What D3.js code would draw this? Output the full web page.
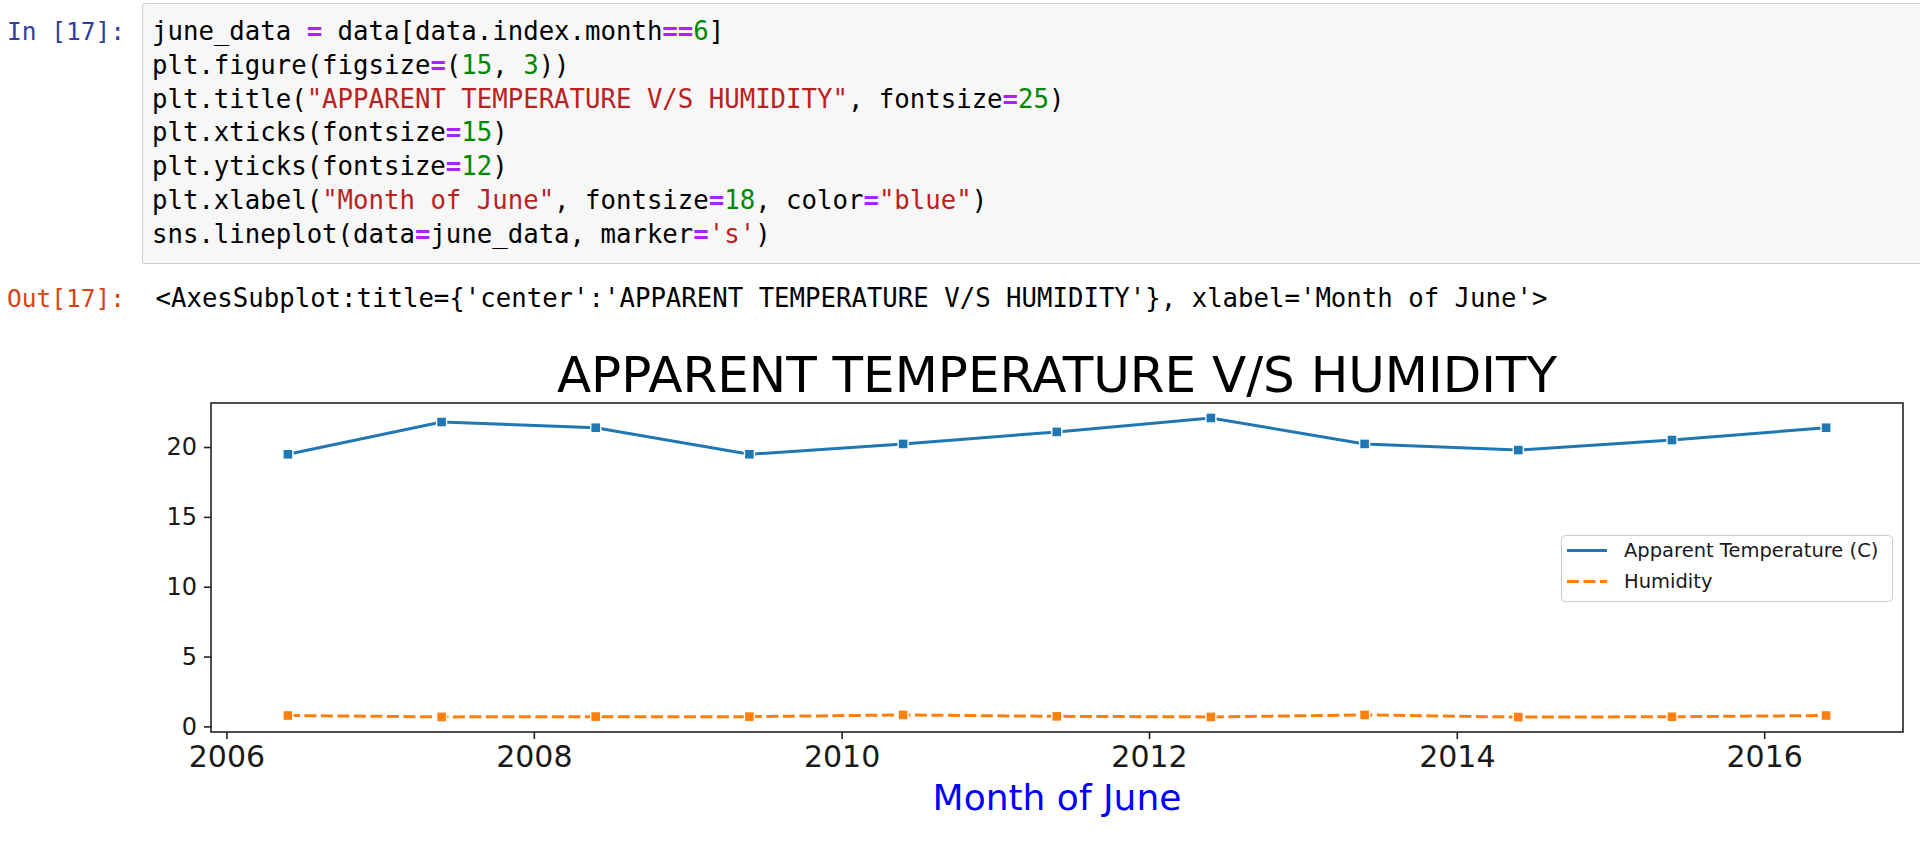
<!DOCTYPE html>
<html>
<head>
<meta charset="utf-8">
<script src="https://cdn.jsdelivr.net/npm/d3@7"></script>
<style>
  body { margin: 0; background: #fff; overflow: hidden; }
  svg { display: block; }
</style>
</head>
<body>
<div id="page"></div>
<script>
// values
var juneDates = ['2006-05-27', '2007-05-27', '2008-05-27', '2009-05-27', '2010-05-27', '2011-05-27',
  '2012-05-27', '2013-05-27', '2014-05-27', '2015-05-27', '2016-05-27']
var tempValues = [19.48, 21.79, 21.38, 19.48, 20.22, 21.08, 22.08, 20.22, 19.78, 20.50, 21.38]
var humidityValues = [0.78, 0.68, 0.70, 0.70, 0.82, 0.72, 0.68, 0.82, 0.67, 0.69, 0.78]
var seriesNames = ['Apparent Temperature (C)', 'Humidity']
var yTicks = [0, 5, 10, 15, 20]
var xTickYears = [2006, 2008, 2010, 2012, 2014, 2016]

// notebook cell text
var codeLines = [
  [['june_data ', 'n'], ['=', 'o'], [' data[data.index.month', 'n'], ['==', 'o'], ['6', 'num'], [']', 'n']],
  [['plt.figure(figsize', 'n'], ['=', 'o'], ['(', 'n'], ['15', 'num'], [', ', 'n'], ['3', 'num'], ['))', 'n']],
  [['plt.title(', 'n'], ['"APPARENT TEMPERATURE V/S HUMIDITY"', 's'], [', fontsize', 'n'], ['=', 'o'], ['25', 'num'], [')', 'n']],
  [['plt.xticks(fontsize', 'n'], ['=', 'o'], ['15', 'num'], [')', 'n']],
  [['plt.yticks(fontsize', 'n'], ['=', 'o'], ['12', 'num'], [')', 'n']],
  [['plt.xlabel(', 'n'], ['"Month of June"', 's'], [', fontsize', 'n'], ['=', 'o'], ['18', 'num'], [', color', 'n'], ['=', 'o'], ['"blue"', 's'], [')', 'n']],
  [['sns.lineplot(data', 'n'], ['=', 'o'], ['june_data, marker', 'n'], ['=', 'o'], ["'s'", 's'], [')', 'n']]
]
var outText = "<AxesSubplot:title={'center':'APPARENT TEMPERATURE V/S HUMIDITY'}, xlabel='Month of June'>"
var tokenColor = { n: '#000', o: '#AA22FF', num: '#008800', s: '#BA2121' }

function drawPage () {
  var W = 1920, H = 861
  var mono = 'DejaVu Sans Mono, monospace'
  var sans = 'DejaVu Sans, sans-serif'

  var svg = d3.select('#page').append('svg')
      .attr('width', W)
      .attr('height', H)

  // ---- code cell ----
  svg.append('rect')
      .attr('x', 142.5).attr('y', 3.5)
      .attr('width', 1800).attr('height', 260)
      .attr('rx', 2)
      .style('fill', '#f7f7f7')
      .style('stroke', '#cfcfcf')

  svg.append('text')
      .attr('x', 7).attr('y', 40)
      .style('font-family', mono).style('font-size', '24.5px')
      .style('fill', '#303F9F')
      .text('In [17]:')

  svg.append('text')
      .attr('x', 7).attr('y', 307)
      .style('font-family', mono).style('font-size', '24.5px')
      .style('fill', '#D84315')
      .text('Out[17]:')

  var code = svg.append('g')
  codeLines.forEach(function (line, i) {
    var t = code.append('text')
        .attr('x', 152).attr('y', 40.3 + i * 33.7)
        .style('font-family', mono).style('font-size', '25.7px')
        .style('white-space', 'pre')
    t.selectAll('tspan').data(line).enter().append('tspan')
        .style('fill', function (d) { return tokenColor[d[1]] })
        .style('font-weight', function (d) { return d[1] == 'o' ? 'bold' : 'normal' })
        .text(function (d) { return d[0] })
  })

  svg.append('text')
      .attr('x', 155.5).attr('y', 307)
      .style('font-family', mono).style('font-size', '25.7px')
      .style('white-space', 'pre')
      .style('fill', '#000')
      .text(outText)

  // ---- chart ----
  var axL = 211, axR = 1903, axT = 403, axB = 732
  var parse = d3.timeParse('%Y-%m-%d')
  var rows = juneDates.map(function (d, i) {
    return { date: parse(d), temp: tempValues[i], hum: humidityValues[i] }
  })

  var xExt = d3.extent(rows, function (d) { return d.date })
  var xPad = (xExt[1] - xExt[0]) * 0.05
  var x = d3.scaleTime()
      .domain([new Date(+xExt[0] - xPad), new Date(+xExt[1] + xPad)])
      .range([axL, axR])

  var allVals = tempValues.concat(humidityValues)
  var yMin = d3.min(allVals), yMax = d3.max(allVals)
  var yPad = (yMax - yMin) * 0.05
  var y = d3.scaleLinear()
      .domain([yMin - yPad, yMax + yPad])
      .range([axB, axT])

  var series = [
    { name: seriesNames[0], key: 'temp', color: '#1f77b4', dash: null },
    { name: seriesNames[1], key: 'hum', color: '#ff7f0e', dash: '12,4.5' }
  ]

  var plot = svg.append('g')
  series.forEach(function (s) {
    var line = d3.line()
        .x(function (d) { return x(d.date) })
        .y(function (d) { return y(d[s.key]) })
    plot.append('path')
        .datum(rows)
        .attr('d', line)
        .style('fill', 'none')
        .style('stroke', s.color)
        .style('stroke-width', 3)
        .style('stroke-dasharray', s.dash)
    plot.selectAll('rect.m-' + s.key).data(rows).enter().append('rect')
        .attr('class', 'm-' + s.key)
        .attr('x', function (d) { return x(d.date) - 5 })
        .attr('y', function (d) { return y(d[s.key]) - 5 })
        .attr('width', 10).attr('height', 10)
        .style('fill', s.color)
        .style('stroke', '#fff')
        .style('stroke-width', 1.4)
  })

  // axes
  var xAxis = svg.append('g')
      .attr('transform', 'translate(0,' + axB + ')')
      .call(d3.axisBottom(x)
        .tickValues(xTickYears.map(function (yr) { return new Date(yr, 0, 1) }))
        .tickFormat(d3.timeFormat('%Y'))
        .tickSize(7).tickPadding(7))
  xAxis.select('.domain').remove()
  xAxis.selectAll('line').style('stroke', '#222').style('stroke-width', 1.6)
  xAxis.selectAll('text')
      .style('font-family', sans).style('font-size', '30px').style('fill', '#1a1a1a')

  var yAxis = svg.append('g')
      .attr('transform', 'translate(' + axL + ',0)')
      .call(d3.axisLeft(y).tickValues(yTicks).tickSize(7).tickPadding(7))
  yAxis.select('.domain').remove()
  yAxis.selectAll('line').style('stroke', '#222').style('stroke-width', 1.6)
  yAxis.selectAll('text')
      .style('font-family', sans).style('font-size', '24px').style('fill', '#1a1a1a')

  svg.append('rect')
      .attr('x', axL).attr('y', axT)
      .attr('width', axR - axL).attr('height', axB - axT)
      .style('fill', 'none')
      .style('stroke', '#222')
      .style('stroke-width', 1.6)

  // title + xlabel
  svg.append('text')
      .attr('x', (axL + axR) / 2).attr('y', 392)
      .attr('text-anchor', 'middle')
      .style('font-family', sans).style('font-size', '50px').style('fill', '#000')
      .text('APPARENT TEMPERATURE V/S HUMIDITY')

  svg.append('text')
      .attr('x', (axL + axR) / 2).attr('y', 810)
      .attr('text-anchor', 'middle')
      .style('font-family', sans).style('font-size', '36px').style('fill', 'blue')
      .text('Month of June')

  // legend
  var legend = svg.append('g').attr('transform', 'translate(1561,535)')
  legend.append('rect')
      .attr('x', 0.5).attr('y', 0.5)
      .attr('width', 331).attr('height', 66)
      .attr('rx', 4)
      .style('fill', 'rgba(255,255,255,0.8)')
      .style('stroke', '#cccccc')
  series.forEach(function (s, i) {
    legend.append('line')
        .attr('x1', 6).attr('x2', 46)
        .attr('y1', 15.5 + i * 31).attr('y2', 15.5 + i * 31)
        .style('stroke', s.color)
        .style('stroke-width', 3)
        .style('stroke-dasharray', s.dash)
    legend.append('text')
        .attr('x', 63).attr('y', 22.3 + i * 31)
        .style('font-family', sans).style('font-size', '19.5px').style('fill', '#1a1a1a')
        .text(s.name)
  })
}

drawPage()
</script>
</body>
</html>
